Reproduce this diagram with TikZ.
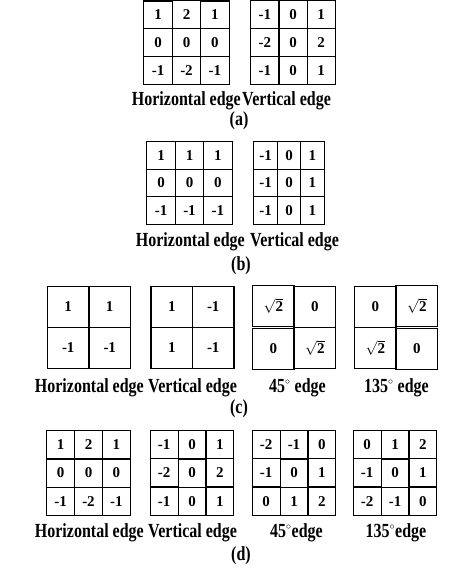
\documentclass[tikz,border=0pt]{standalone}
\usepackage{fontspec}
\setmainfont{Liberation Serif}
\newfontfamily\lblfont{Liberation Serif}[FakeStretch=0.8]
\usetikzlibrary{matrix}

\tikzset{
  cell/.style={draw, line width=1.1pt, inner sep=0pt,
    font=\fontsize{15}{18}\selectfont\bfseries},
  kernel/.style 2 args={matrix of nodes, column sep=-1.1pt, row sep=-1.1pt,
    nodes={cell, minimum width=#1pt, minimum height=#2pt}},
  edgelbl/.style={inner sep=0pt, font=\lblfont\fontsize{20}{24}\selectfont\bfseries},
}
\newcommand{\degmark}{$^{\scriptscriptstyle\circ}$}

\begin{document}
\begin{tikzpicture}[x=1pt, y=-1pt]
    \useasboundingbox (0,0) rectangle (474,571);
    % (a) Sobel
    \matrix[kernel={28.4}{27.7}] (ha) at (186.5,42.5) {
        1 & 2 & 1 \\ 0 & 0 & 0 \\ -1 & -2 & -1 \\};
    \matrix[kernel={28.1}{27.7}] (va) at (293,42.5) {
        -1 & 0 & 1 \\ -2 & 0 & 2 \\ -1 & 0 & 1 \\};
    \node[edgelbl, anchor=base east] (haL) at (241,105) {Horizontal edge};
    \node[edgelbl, anchor=base west] (vaL) at (242,105) {Vertical edge};
    \node[edgelbl, anchor=base] (capA) at (239,125) {(a)};
    % (b) Prewitt
    \matrix[kernel={28.4}{27.4}] (hb) at (189.5,183) {
        1 & 1 & 1 \\ 0 & 0 & 0 \\ -1 & -1 & -1 \\};
    \matrix[kernel={23.4}{27.4}] (vb) at (289,183) {
        -1 & 0 & 1 \\ -1 & 0 & 1 \\ -1 & 0 & 1 \\};
    \node[edgelbl, anchor=base east] (hbL) at (245,246) {Horizontal edge};
    \node[edgelbl, anchor=base west] (vbL) at (250,246) {Vertical edge};
    \node[edgelbl, anchor=base] (capB) at (241,270) {(b)};
    % (c) 2x2 kernels
    \matrix[kernel={41.5}{41}] (hc) at (89,327.5) {
        1 & 1 \\ -1 & -1 \\};
    \matrix[kernel={41.5}{41}] (vc) at (192.5,327.5) {
        1 & -1 \\ 1 & -1 \\};
    \matrix[kernel={41.5}{41}] (dc) at (294,327.5) {
        $\sqrt{\hbox{\bfseries 2}}$ & 0 \\ 0 & $\sqrt{\hbox{\bfseries 2}}$ \\};
    \matrix[kernel={41.5}{41}] (ac) at (396,327.5) {
        0 & $\sqrt{\hbox{\bfseries 2}}$ \\ $\sqrt{\hbox{\bfseries 2}}$ & 0 \\};
    \node[edgelbl, anchor=base east] (hcL) at (144,392) {Horizontal edge};
    \node[edgelbl, anchor=base west] (vcL) at (148,392) {Vertical edge};
    \node[edgelbl, anchor=base] (dcL) at (297.5,392) {45\degmark\ edge};
    \node[edgelbl, anchor=base] (acL) at (396.5,392) {135\degmark\ edge};
    \node[edgelbl, anchor=base] (capC) at (239,413) {(c)};
    % (d) 3x3 in four directions
    \matrix[kernel={27.9}{28.1}] (hd) at (88.5,473) {
        1 & 2 & 1 \\ 0 & 0 & 0 \\ -1 & -2 & -1 \\};
    \matrix[kernel={27.9}{28.1}] (vd) at (192,473) {
        -1 & 0 & 1 \\ -2 & 0 & 2 \\ -1 & 0 & 1 \\};
    \matrix[kernel={27.9}{28.1}] (dd) at (294,473) {
        -2 & -1 & 0 \\ -1 & 0 & 1 \\ 0 & 1 & 2 \\};
    \matrix[kernel={27.9}{28.1}] (ad) at (395,473) {
        0 & 1 & 2 \\ -1 & 0 & 1 \\ -2 & -1 & 0 \\};
    \node[edgelbl, anchor=base east] (hdL) at (144,537) {Horizontal edge};
    \node[edgelbl, anchor=base west] (vdL) at (148,537) {Vertical edge};
    \node[edgelbl, anchor=base] (ddL) at (296.5,537) {45\degmark edge};
    \node[edgelbl, anchor=base] (adL) at (396,537) {135\degmark edge};
    \node[edgelbl, anchor=base] (capD) at (241,560) {(d)};
\end{tikzpicture}
\end{document}
